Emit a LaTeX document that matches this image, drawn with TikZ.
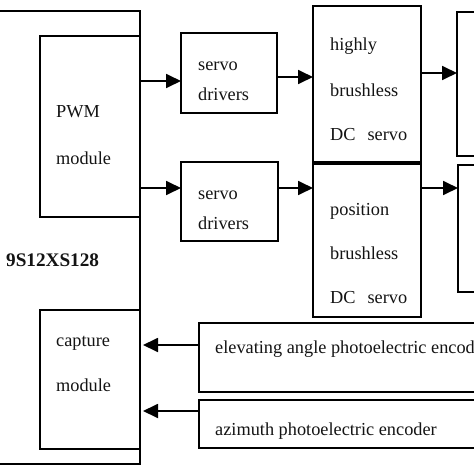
\documentclass[tikz,border=0pt]{standalone}
\usepackage{fontspec}
\setmainfont{Liberation Serif}
\usetikzlibrary{arrows.meta}
\tikzset{
  box/.style={draw=black, line width=1.8pt, rectangle, inner sep=0pt, outer sep=0pt, fill=none},
  lbl/.style={anchor=base west, inner sep=0pt, text=black!92, font=\fontsize{18.3}{21}\selectfont},
  arr/.style={draw=black, line width=1.8pt, -{Triangle[length=15pt,width=14pt]}},
}
\begin{document}
\begin{tikzpicture}[x=1pt,y=-1pt]
\useasboundingbox (0,0) rectangle (474,474);
\fill[white] (0,0) rectangle (474,474);
\clip (0,0) rectangle (474,474);
% boxes
\node[box, minimum width=150pt, minimum height=453pt] (main) at (65,237.5) {};
\node[box, minimum width=100pt, minimum height=181pt] (pwm) at (90,126.5) {};
\node[box, minimum width=100pt, minimum height=139pt] (cap) at (90,379.5) {};
\node[box, minimum width=96pt, minimum height=80pt] (sd1) at (229,73) {};
\node[box, minimum width=97pt, minimum height=79pt] (sd2) at (229.5,201.5) {};
\node[box, minimum width=108pt, minimum height=156pt] (m1) at (367,84) {};
\node[box, minimum width=108pt, minimum height=153pt] (m2) at (367,240.5) {};
\node[box, minimum width=33pt, minimum height=144pt] (r1) at (473.5,84) {};
\node[box, minimum width=32pt, minimum height=127pt] (r2) at (474,228.5) {};
\node[box, minimum width=291pt, minimum height=69pt] (enc1) at (344.5,357.5) {};
\node[box, minimum width=291pt, minimum height=48pt] (enc2) at (344.5,424) {};
% labels
\node[lbl, font=\fontsize{19.2}{22}\selectfont\bfseries] (tmain) at (6,266) {9S12XS128};
\node[lbl] (tpwm1) at (56,117) {PWM};
\node[lbl] (tpwm2) at (56,164) {module};
\node[lbl] (tcap1) at (56,346) {capture};
\node[lbl] (tcap2) at (56,391) {module};
\node[lbl] (tsd1a) at (198,70) {servo};
\node[lbl] (tsd1b) at (198,100) {drivers};
\node[lbl] (tsd2a) at (198,199) {servo};
\node[lbl] (tsd2b) at (198,229) {drivers};
\node[lbl] (tm1a) at (330,50) {highly};
\node[lbl] (tm1b) at (330,96) {brushless};
\node[lbl] (tm1c) at (330,140) {DC\hspace{12pt}servo};
\node[lbl] (tm2a) at (330,215) {position};
\node[lbl] (tm2b) at (330,259) {brushless};
\node[lbl] (tm2c) at (330,303) {DC\hspace{12pt}servo};
\node[lbl] (te1) at (215,353) {elevating angle photoelectric encoder};
\node[lbl] (te2) at (215,435) {azimuth photoelectric encoder};
% connectors
\draw[arr] (main.east |- 0,81) -- (sd1.west |- 0,81);
\draw[arr] (main.east |- 0,188) -- (sd2.west |- 0,188);
\draw[arr] (sd1.east |- 0,77) -- (m1.west |- 0,77);
\draw[arr] (sd2.east |- 0,188) -- (m2.west |- 0,188);
\draw[arr] (m1.east |- 0,73) -- (r1.west |- 0,73);
\draw[arr] (m2.east |- 0,188) -- (r2.west |- 0,188);
\draw[arr] (enc1.west |- 0,345) -- ([xshift=3pt]main.east |- 0,345);
\draw[arr] (enc2.west |- 0,411) -- ([xshift=3pt]main.east |- 0,411);
\end{tikzpicture}
\end{document}
